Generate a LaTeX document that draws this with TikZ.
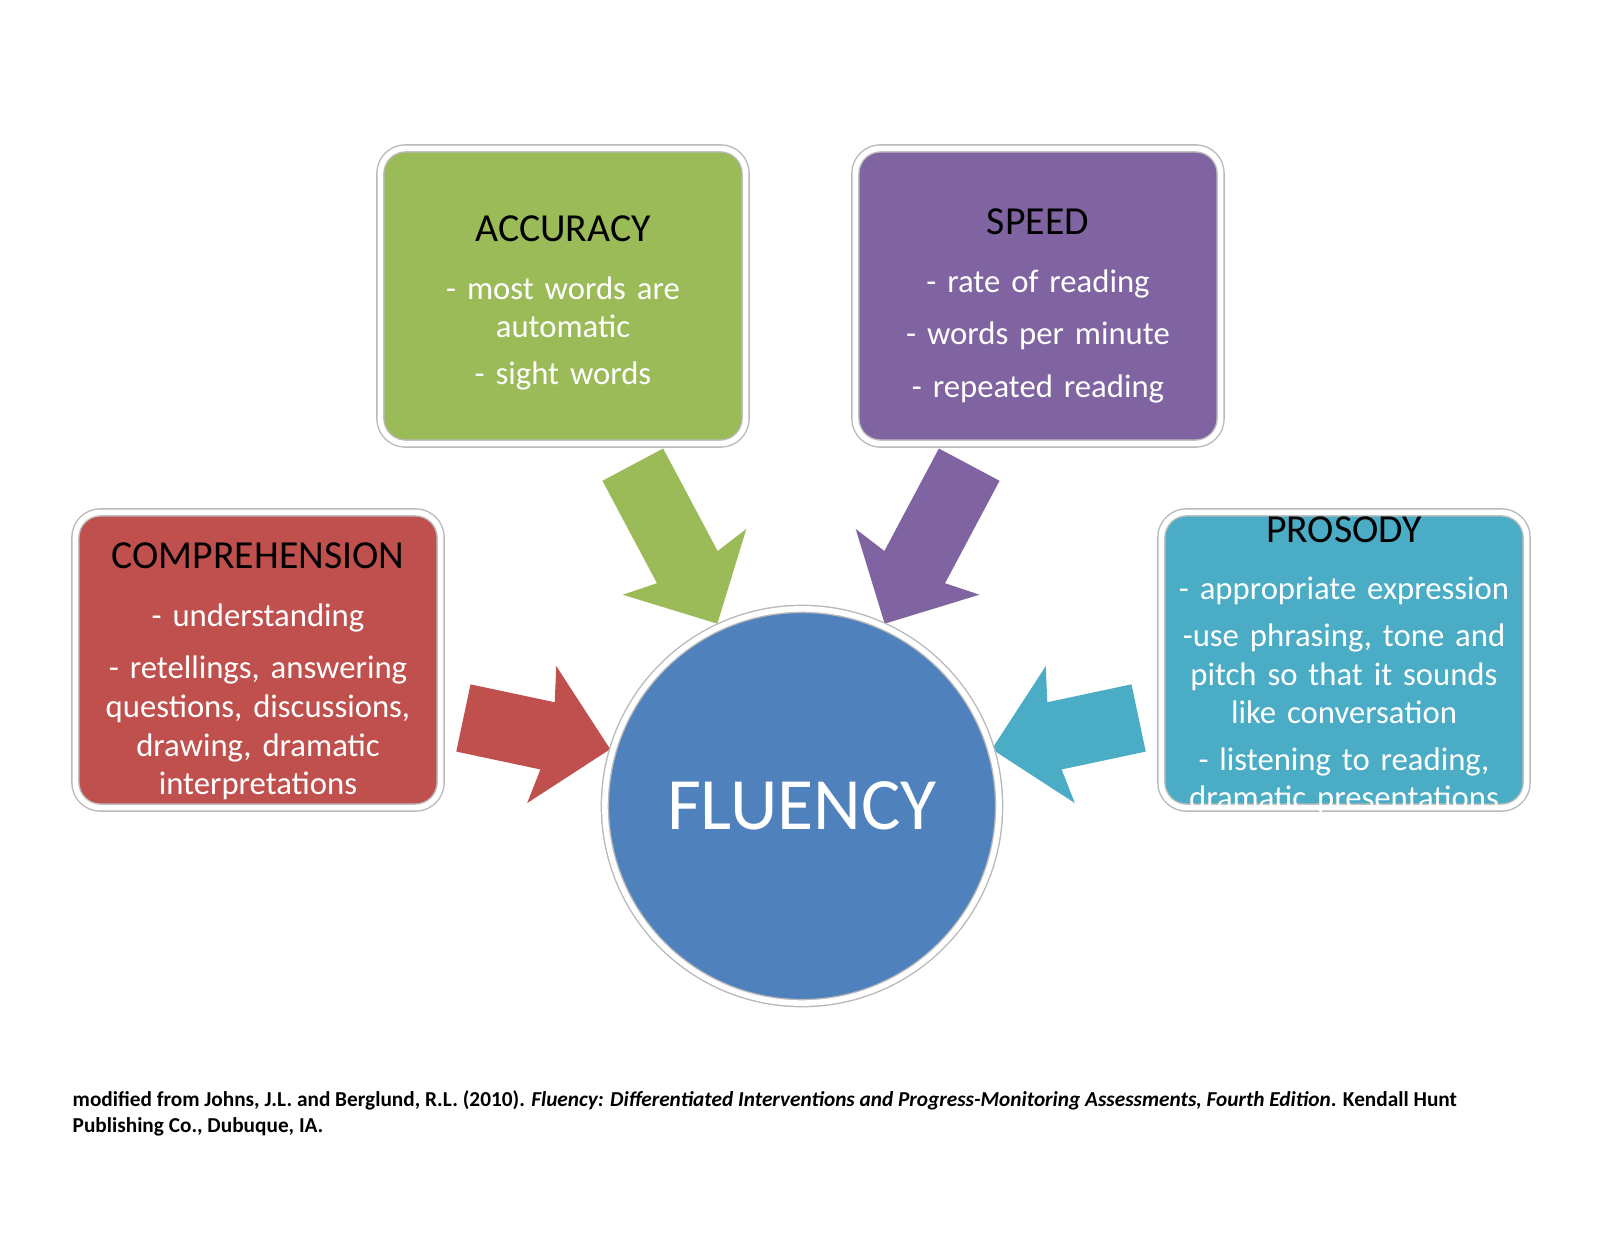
\documentclass[tikz,border=0pt]{standalone}
\usepackage{fontspec}
\setmainfont{Carlito}
\usetikzlibrary{shapes.arrows}
\definecolor{accgreen}{HTML}{9BBB59}
\definecolor{spdpurple}{HTML}{8064A2}
\definecolor{comred}{HTML}{C0504D}
\definecolor{procyan}{HTML}{4BACC6}
\definecolor{flublue}{HTML}{4F81BD}
\hyphenpenalty=10000
\exhyphenpenalty=10000
\tikzset{
  topic/.style={rounded corners=0.25cm,draw=gray!55,double=white,double distance=1.6pt,minimum width=3.65cm,minimum height=2.95cm},
  fat/.style={single arrow,inner xsep=0pt,inner ysep=0.33cm,minimum width=1.4cm,single arrow head extend=0.35cm,single arrow head indent=0.06cm},
  txt/.style={anchor=north,align=center,text width=3.6cm,font=\fontsize{9.3}{11}\selectfont,text=white},
  ttl/.style={anchor=north,font=\fontsize{11.3}{13}\selectfont}
}
\begin{document}
\begin{tikzpicture}[x=0.01cm,y=-0.01cm]
\useasboundingbox[fill=white] (0,0) rectangle (1600,1237);
% arrows first
\node[fat,fill=accgreen,minimum height=1.8cm,rotate=-62] (aA) at (667,529) {};
\node[fat,fill=spdpurple,minimum height=1.8cm,rotate=-118] (aS) at (935,529) {};
\node[fat,fill=comred,minimum height=1.5cm,rotate=-12] (aC) at (520,730) {};
\node[fat,fill=procyan,minimum height=1.5cm,rotate=-168] (aP) at (1082,730) {};
% boxes
\node[topic,fill=accgreen] (acc) at (563,296) {};
\node[topic,fill=spdpurple] (spd) at (1038,296) {};
\node[topic,fill=comred] (com) at (258,660) {};
\node[topic,fill=procyan] (pro) at (1344,660) {};
\node[circle,fill=flublue,draw=gray!55,double=white,double distance=1.6pt,minimum size=3.94cm,text=white,font=\fontsize{21}{24}\selectfont] (flu) at (802,806) {FLUENCY};
% texts
\node[ttl] (tA) at (563,203) {ACCURACY};
\node[txt] (bA) at (563,264) {- most words are\\automatic\\[0.5ex]- sight words};
\node[ttl] (tS) at (1038,196) {SPEED};
\node[txt] (bS) at (1038,257) {- rate of reading\\[0.9ex]- words per minute\\[0.9ex]- repeated reading};
\node[ttl] (tC) at (258,530) {COMPREHENSION};
\node[txt] (bC) at (258,591) {- understanding\\[0.9ex]- retellings, answering\\questions, discussions,\\drawing, dramatic\\interpretations};
\node[ttl] (tP) at (1344,504) {PROSODY};
\node[txt] (bP) at (1344,565) {- appropriate expression\\[0.5ex]-use phrasing, tone and\\pitch so that it sounds\\like conversation\\[0.5ex]- listening to reading,\\\underline{dramatic presentations}};
% source
\node[anchor=north west,align=left,inner sep=0pt,font=\bfseries\fontsize{6.05}{7.4}\selectfont] (src) at (72,1090) {modified from Johns, J.L. and Berglund, R.L. (2010). \textit{Fluency: Differentiated Interventions and Progress-Monitoring Assessments, Fourth Edition}. Kendall Hunt\\Publishing Co., Dubuque, IA.};
\end{tikzpicture}
\end{document}
